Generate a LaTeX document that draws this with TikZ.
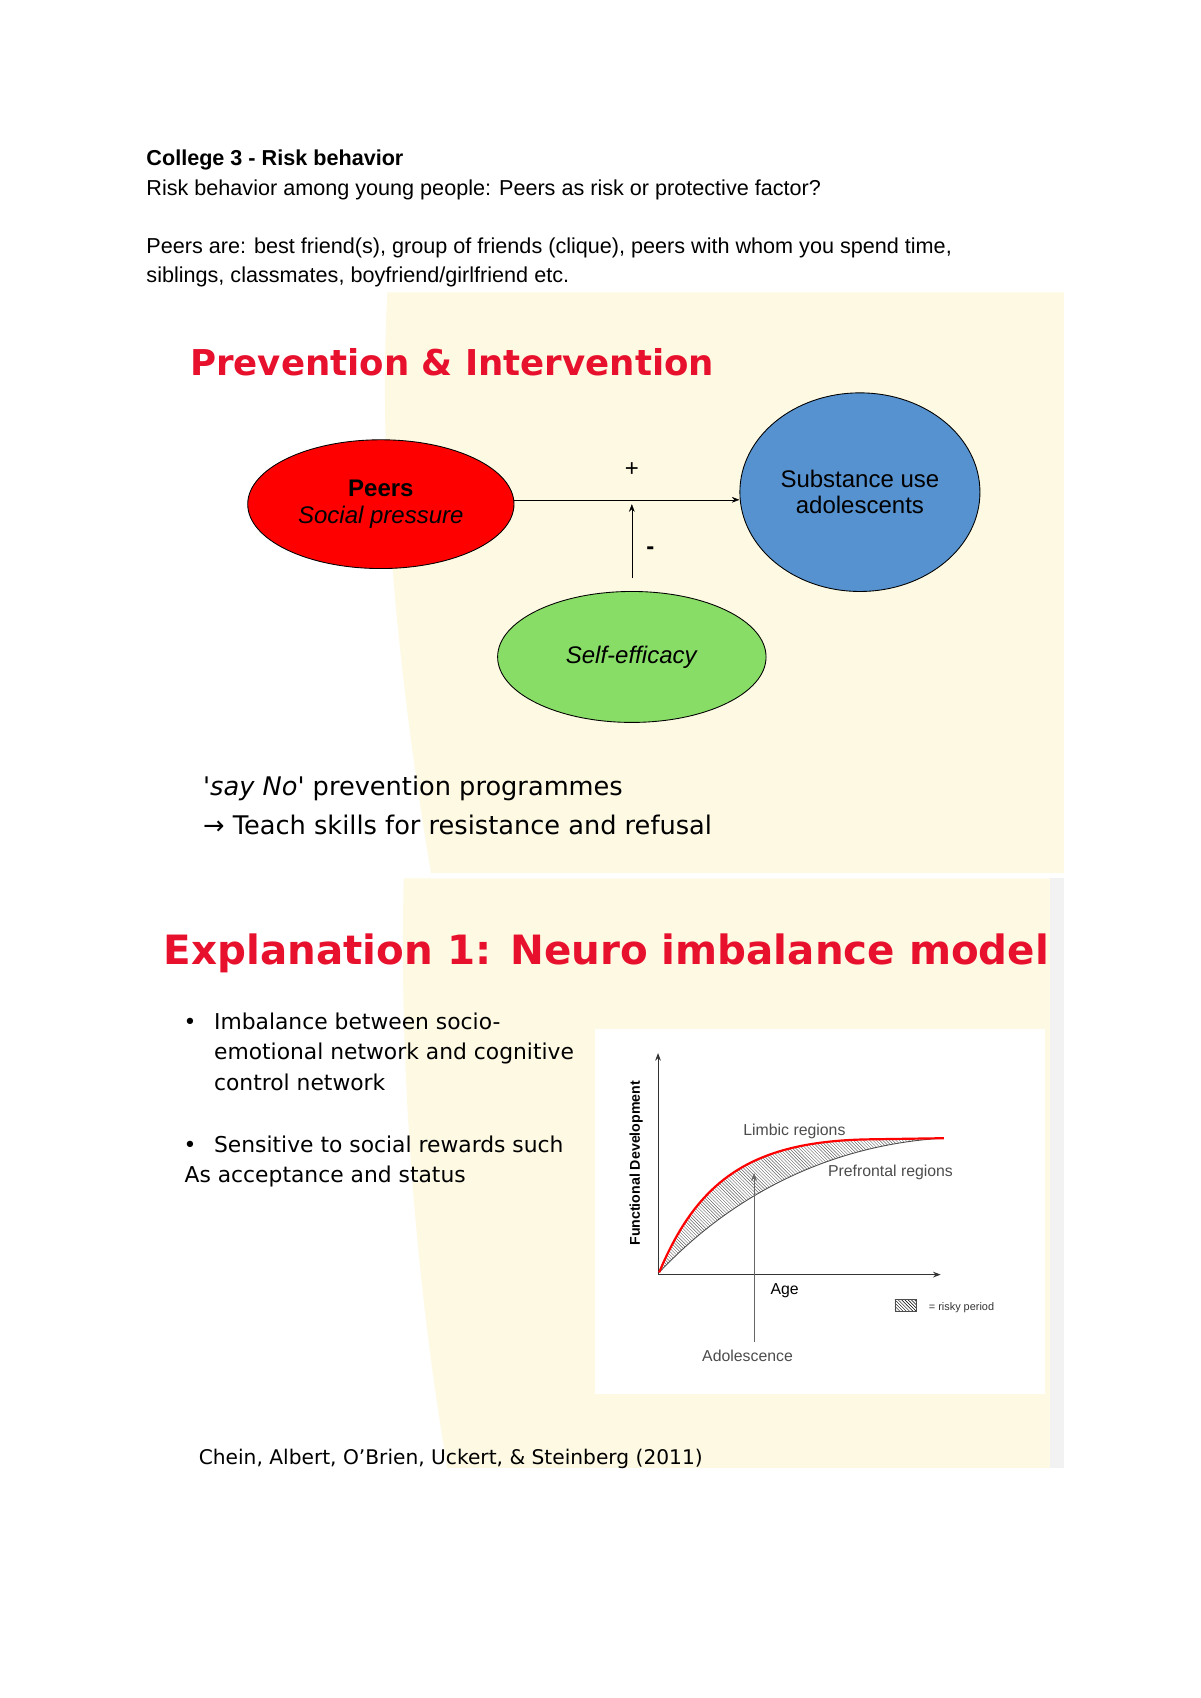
\documentclass[tikz,border=0pt]{standalone}
\usepackage{fontspec}
\setmainfont{Liberation Sans}
\newfontfamily\vfont{DejaVu Sans}
\usetikzlibrary{shapes.geometric,arrows.meta,patterns}
\definecolor{cream}{HTML}{FDF9E2}
\definecolor{tred}{HTML}{E8112D}
\definecolor{pred}{HTML}{FF0000}
\definecolor{bblue}{HTML}{5592CF}
\definecolor{ggreen}{HTML}{88DD66}
\begin{document}
\begin{tikzpicture}[x=1pt,y=-1pt,
  body/.style={anchor=base west,inner sep=0,font=\fontsize{19.8}{22}\selectfont},
  slide/.style={anchor=base west,inner sep=0,font=\vfont\fontsize{23.5}{28}\selectfont},
  bul/.style={anchor=base west,inner sep=0,font=\vfont\fontsize{20}{25}\selectfont},
  ttl/.style={anchor=base west,inner sep=0,text=tred,font=\vfont\bfseries\fontsize{32.6}{40}\selectfont},
  ell/.style={ellipse,draw=black,thick,align=center,font=\fontsize{22}{24}\selectfont},
  arr/.style={-{Stealth[length=7pt]},thin},
  small/.style={inner sep=0,text=black!70,font=\fontsize{14.5}{16}\selectfont}]
\useasboundingbox (0,0) rectangle (1100,1556);
\fill[white] (0,0) rectangle (1100,1556);
% slide backgrounds
\fill[cream] (355,268) .. controls (345,450) and (370,650) .. (395,800) -- (975,800) -- (975,268) -- cycle;
\fill[cream] (370,805) .. controls (365,1000) and (385,1200) .. (410,1345) -- (975,1345) -- (975,805) -- cycle;
\fill[black!5] (962,805) rectangle (975,1345);
% header
\node[body,font=\bfseries\fontsize{19.8}{22}\selectfont] (h1) at (134,152) {College 3 - Risk behavior};
\node[body] (h2) at (134,179) {Risk behavior among young people: Peers as risk or protective factor?};
\node[body] (h3) at (134,232) {Peers are: best friend(s), group of friends (clique), peers with whom you spend time,};
\node[body] (h4) at (134,259) {siblings, classmates, boyfriend/girlfriend etc.};
% slide 1
\node[ttl] (t1) at (174,344) {Prevention \& Intervention};
\node[ell,fill=pred,minimum width=244,minimum height=118] (peers) at (349,462) {\textbf{Peers}\\\textit{Social pressure}};
\node[ell,fill=bblue,minimum width=220,minimum height=182] (sub) at (788,451) {Substance use\\adolescents};
\node[ell,fill=ggreen,minimum width=246,minimum height=120] (self) at (579,602) {\textit{Self-efficacy}};
\coordinate (j) at (579,458);
\draw[arr] (peers.east |- j) -- (sub.west |- j);
\draw[arr] (579,530) -- (579,462);
\node[font=\fontsize{22}{24}\selectfont] (plus) at (579,430) {+};
\node[font=\bfseries\fontsize{22}{24}\selectfont] (minus) at (596,505) {-};
\node[slide] (s1) at (186,729) {'\textit{say No'} prevention programmes};
\node[slide] (s2) at (186,765) {→ Teach skills for resistance and refusal};
% slide 2
\node[ttl,font=\vfont\bfseries\fontsize{37}{44}\selectfont] (t2) at (150,884) {Explanation 1: Neuro imbalance model};
\node[bul] (b1) at (168,943) {•};
\node[bul] (l1) at (196,943) {Imbalance between socio-};
\node[bul] (l2) at (196,971) {emotional network and cognitive};
\node[bul] (l3) at (196,999) {control network};
\node[bul] (b2) at (168,1056) {•};
\node[bul] (l4) at (196,1056) {Sensitive to social rewards such};
\node[bul] (l5) at (169,1084) {As acceptance and status};
% graph
\fill[white] (545,943) rectangle (958,1277);
\coordinate (o) at (603,1168);
\draw[arr,thick,black!80] (o) -- (603,965);
\draw[arr,thick,black!80] (o) -- (862,1168);
\fill[pattern=north west lines,pattern color=black!60] (604,1166) .. controls (640,1080) and (690,1045) .. (800,1044) -- (865,1043) .. controls (790,1047) and (690,1075) .. (604,1166) -- cycle;
\draw[black!70,thick] (604,1166) .. controls (690,1075) and (790,1047) .. (865,1043);
\draw[pred,line width=2pt] (604,1166) .. controls (640,1080) and (690,1045) .. (800,1044) -- (865,1043);
\draw[arr,black!60] (691,1230) -- (691,1075);
\node[small,rotate=90,text=black,font=\bfseries\fontsize{13}{15}\selectfont] (fd) at (583,1066) {Functional Development};
\node[small,text=black] (age) at (719,1183) {Age};
\node[small] (lim) at (728,1037) {Limbic regions};
\node[small] (pre) at (816,1074) {Prefrontal regions};
\node[small] (ado) at (685,1242) {Adolescence};
\node[draw=black!70,pattern=north west lines,minimum width=20,minimum height=11,inner sep=0] (leg) at (830,1196) {};
\node[small,text=black!80,font=\fontsize{10}{12}\selectfont,anchor=west] (legt) at (851,1198) {= risky period};
\node[bul,font=\vfont\fontsize{18.5}{22}\selectfont] (cite) at (182,1342) {Chein, Albert, O’Brien, Uckert, \& Steinberg (2011)};
\end{tikzpicture}
\end{document}
